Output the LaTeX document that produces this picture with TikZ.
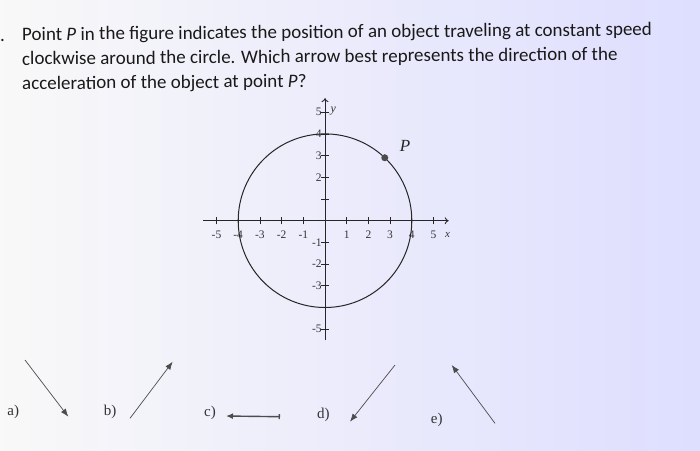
\documentclass[tikz,border=0pt]{standalone}
\usepackage{fontspec}
\setmainfont{Carlito}
\newfontfamily\tms{Liberation Serif}
\usetikzlibrary{arrows.meta}

\begin{document}
\begin{tikzpicture}[x=1pt,y=-1pt,
    qtext/.style={anchor=base west,inner sep=0pt,rotate=0.45,font=\fontsize{19}{21}\selectfont,text=black!90},
    tlab/.style={font=\tms\fontsize{11.5}{12}\selectfont,inner sep=1pt,text=black!80},
    choice/.style={font=\tms\fontsize{15}{16}\selectfont,text=black!80},
    ans/.style={draw=black!70,line width=0.7pt,-{Latex[length=8pt,width=6pt]}}]
    \shade[left color=gray!5, right color=blue!13] (0,0) rectangle (700,450);
    \useasboundingbox (0,0) rectangle (700,450);
    % question
    \node[qtext] (num) at (0,41) {.};
    \node[qtext] (line1) at (22,40.5) {Point \textit{P} in the figure indicates the position of an object traveling at constant speed};
    \node[qtext] (line2) at (22,65) {clockwise around the circle. Which arrow best represents the direction of the};
    \node[qtext] (line3) at (22,89.5) {acceleration of the object at point \textit{P}?};
    % axes and circle
    \begin{scope}[shift={(325,220.7)},x=21.7pt,y=21.7pt,black!85]
      \draw[line width=0.9pt,-{To[length=4pt,width=7pt]}] (-5.6,0) -- (5.7,0);
      \draw[line width=0.9pt,-{To[length=4pt,width=7pt]}] (0,-5.5) -- (0,5.65);
      \foreach \i in {-5,...,-1,1,2,...,5} {
        \draw[line width=0.8pt] (\i,-0.17) -- (\i,0.17);
        \draw[line width=0.8pt] (-0.17,\i) -- (0.17,\i);
      }
      \foreach \i in {-5,...,-1,1,2,...,5}
        \node[tlab] (x\i) at (\i,-0.65) {\i};
      \foreach \i in {5,4,3,2,-1,-2,-3,-5}
        \node[tlab,anchor=east] (y\i) at (-0.1,\i) {\i};
      \node[tlab,font=\tms\itshape\fontsize{11}{12}\selectfont] (xl) at (5.65,-0.65) {x};
      \node[tlab,font=\tms\itshape\fontsize{12}{13}\selectfont,anchor=west] (yl) at (0.2,5.05) {y};
      \draw[line width=1pt] (0,0) circle (4);
      \coordinate (P) at (46.5:4);
      \fill[black!70] (P) circle (3.5pt);
      \node[font=\tms\itshape\fontsize{17}{18}\selectfont] (Plab) at (3.69,3.44) {P};
    \end{scope}
    % answer arrows
    \coordinate (a1) at (25,360);    \coordinate (a2) at (68.3,416.7);
    \coordinate (b1) at (130,418.3); \coordinate (b2) at (172.7,361.7);
    \coordinate (c1) at (280,416.7); \coordinate (c2) at (226,416);
    \coordinate (d1) at (395,365);   \coordinate (d2) at (350,421.7);
    \coordinate (e1) at (495,423.3); \coordinate (e2) at (451.7,365);
    \draw[ans] (a1) -- (a2);
    \draw[ans] (b1) -- (b2);
    \draw[ans,line width=1.4pt,{Bar[width=5pt]}-{Latex[length=7pt,width=6pt]}] (c1) -- (c2);
    \draw[ans] (d1) -- (d2);
    \draw[ans] (e1) -- (e2);
    \node[choice] (la) at (13.3,411.7) {a)};
    \node[choice] (lb) at (110,411.7) {b)};
    \node[choice] (lc) at (210,413.3) {c)};
    \node[choice] (ld) at (323.3,415) {d)};
    \node[choice] (le) at (436.7,420) {e)};
\end{tikzpicture}
\end{document}
